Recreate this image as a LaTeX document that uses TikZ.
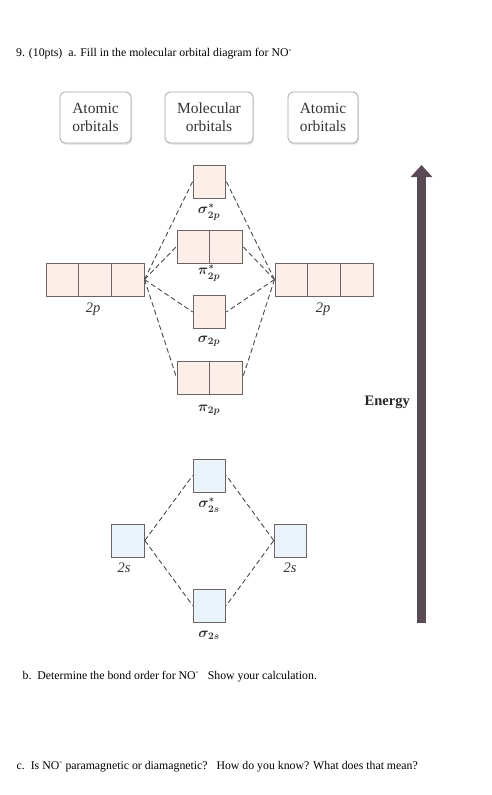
\documentclass[tikz,border=0pt]{standalone}
\usepackage{fontspec}
\setmainfont{Liberation Serif}
\usetikzlibrary{arrows.meta,shadows}
\definecolor{pfill}{HTML}{FCEFEA}
\definecolor{sfill}{HTML}{EAF2FA}
\definecolor{bline}{HTML}{6E6262}
\definecolor{dline}{HTML}{4A4A4A}
\definecolor{earrow}{HTML}{5A4A55}
\tikzset{
  cell/.style={draw=bline, line width=0.9pt, minimum width=32.7pt, minimum height=33pt, inner sep=0pt},
  pcell/.style={cell, fill=pfill},
  scell/.style={cell, fill=sfill},
  hdr/.style={draw=gray!70, line width=0.8pt, fill=white, rounded corners=5pt, minimum height=51pt, align=center,
     font=\fontsize{15.5}{18}\selectfont, text=black!80, drop shadow={opacity=0.25, shadow xshift=1pt, shadow yshift=-1.5pt}},
  conn/.style={draw=dline, line width=0.9pt, dash pattern=on 5pt off 3pt},
  lbl/.style={font=\fontsize{14.5}{16}\selectfont\boldmath, text=black!80, inner sep=0pt},
  qtext/.style={anchor=base west, inner sep=0pt, font=\fontsize{11.8}{14}\selectfont}
}
\begin{document}
\begin{tikzpicture}[x=1pt,y=-1pt]
\useasboundingbox (0,0) rectangle (491,795);
\fill[white] (0,0) rectangle (491,795);

\node[qtext] (title) at (16,56.5) {9. (10pts)\ \ a. Fill in the molecular orbital diagram for NO\textsuperscript{-}};

% headers
\node[hdr, minimum width=71pt] (hA) at (95.5,117.5) {Atomic\\orbitals};
\node[hdr, minimum width=88pt] (hM) at (209,117.5) {Molecular\\orbitals};
\node[hdr, minimum width=70pt] (hB) at (323,117.5) {Atomic\\orbitals};

% 2p atomic orbitals
\node[pcell] (L2pa) at (62.3,279.5) {};
\node[pcell] (L2pb) at (95,279.5) {};
\node[pcell] (L2pc) at (127.7,279.5) {};
\node[pcell] (R2pa) at (291.3,279.5) {};
\node[pcell] (R2pb) at (324,279.5) {};
\node[pcell] (R2pc) at (356.7,279.5) {};
\node[lbl] (L2pl) at (93,309) {\textit{2p}};
\node[lbl] (R2pl) at (323,309) {\textit{2p}};

% molecular 2p
\node[pcell] (sg2ps) at (209.5,181.5) {};
\node[lbl] (sg2psl) at (209,212) {$\sigma^{*}_{2p}$};
\node[pcell] (pi2psa) at (193.3,246.5) {};
\node[pcell] (pi2psb) at (226,246.5) {};
\node[lbl] (pi2psl) at (209,273) {$\pi^{*}_{2p}$};
\node[pcell] (sg2p) at (209.5,312) {};
\node[lbl] (sg2pl) at (209,341) {$\sigma_{2p}$};
\node[pcell] (pi2pa) at (193.3,377.5) {};
\node[pcell] (pi2pb) at (226,377.5) {};
\node[lbl] (pi2pl) at (209,410) {$\pi_{2p}$};

% 2s
\node[scell] (L2s) at (128,540.5) {};
\node[scell] (R2s) at (290.5,540.5) {};
\node[lbl] (L2sl) at (124,568) {\textit{2s}};
\node[lbl] (R2sl) at (290,568) {\textit{2s}};
\node[scell] (sg2ss) at (209.5,475.5) {};
\node[lbl] (sg2ssl) at (209,505) {$\sigma^{*}_{2s}$};
\node[scell] (sg2s) at (209.5,605.5) {};
\node[lbl] (sg2sl) at (209,635) {$\sigma_{2s}$};

% connectors
\draw[conn] (L2pc.east) -- (sg2ps.west);
\draw[conn] (L2pc.east) -- (pi2psa.west);
\draw[conn] (L2pc.east) -- (sg2p.west);
\draw[conn] (L2pc.east) -- (pi2pa.west);
\draw[conn] (R2pa.west) -- (sg2ps.east);
\draw[conn] (R2pa.west) -- (pi2psb.east);
\draw[conn] (R2pa.west) -- (sg2p.east);
\draw[conn] (R2pa.west) -- (pi2pb.east);
\draw[conn] (L2s.east) -- (sg2ss.west);
\draw[conn] (L2s.east) -- (sg2s.west);
\draw[conn] (R2s.west) -- (sg2ss.east);
\draw[conn] (R2s.west) -- (sg2s.east);

% energy arrow
\coordinate (ebot) at (421.5,623);
\coordinate (etop) at (421.5,165);
\draw[earrow, line width=9pt, -{Triangle[width=21pt,length=12pt]}] (ebot) -- (etop);
\node[anchor=east, inner sep=0pt, font=\fontsize{14.5}{17}\selectfont\bfseries, text=black!85] (energy) at (410,402) {Energy};

\node[qtext] (qb) at (22.5,679) {b.\ \ Determine the bond order for NO\textsuperscript{-}\ \ \ Show your calculation.};
\node[qtext] (qc) at (16.5,769) {c.\ \ Is NO\textsuperscript{-} paramagnetic or diamagnetic?\ \ \ How do you know? What does that mean?};
\end{tikzpicture}
\end{document}
